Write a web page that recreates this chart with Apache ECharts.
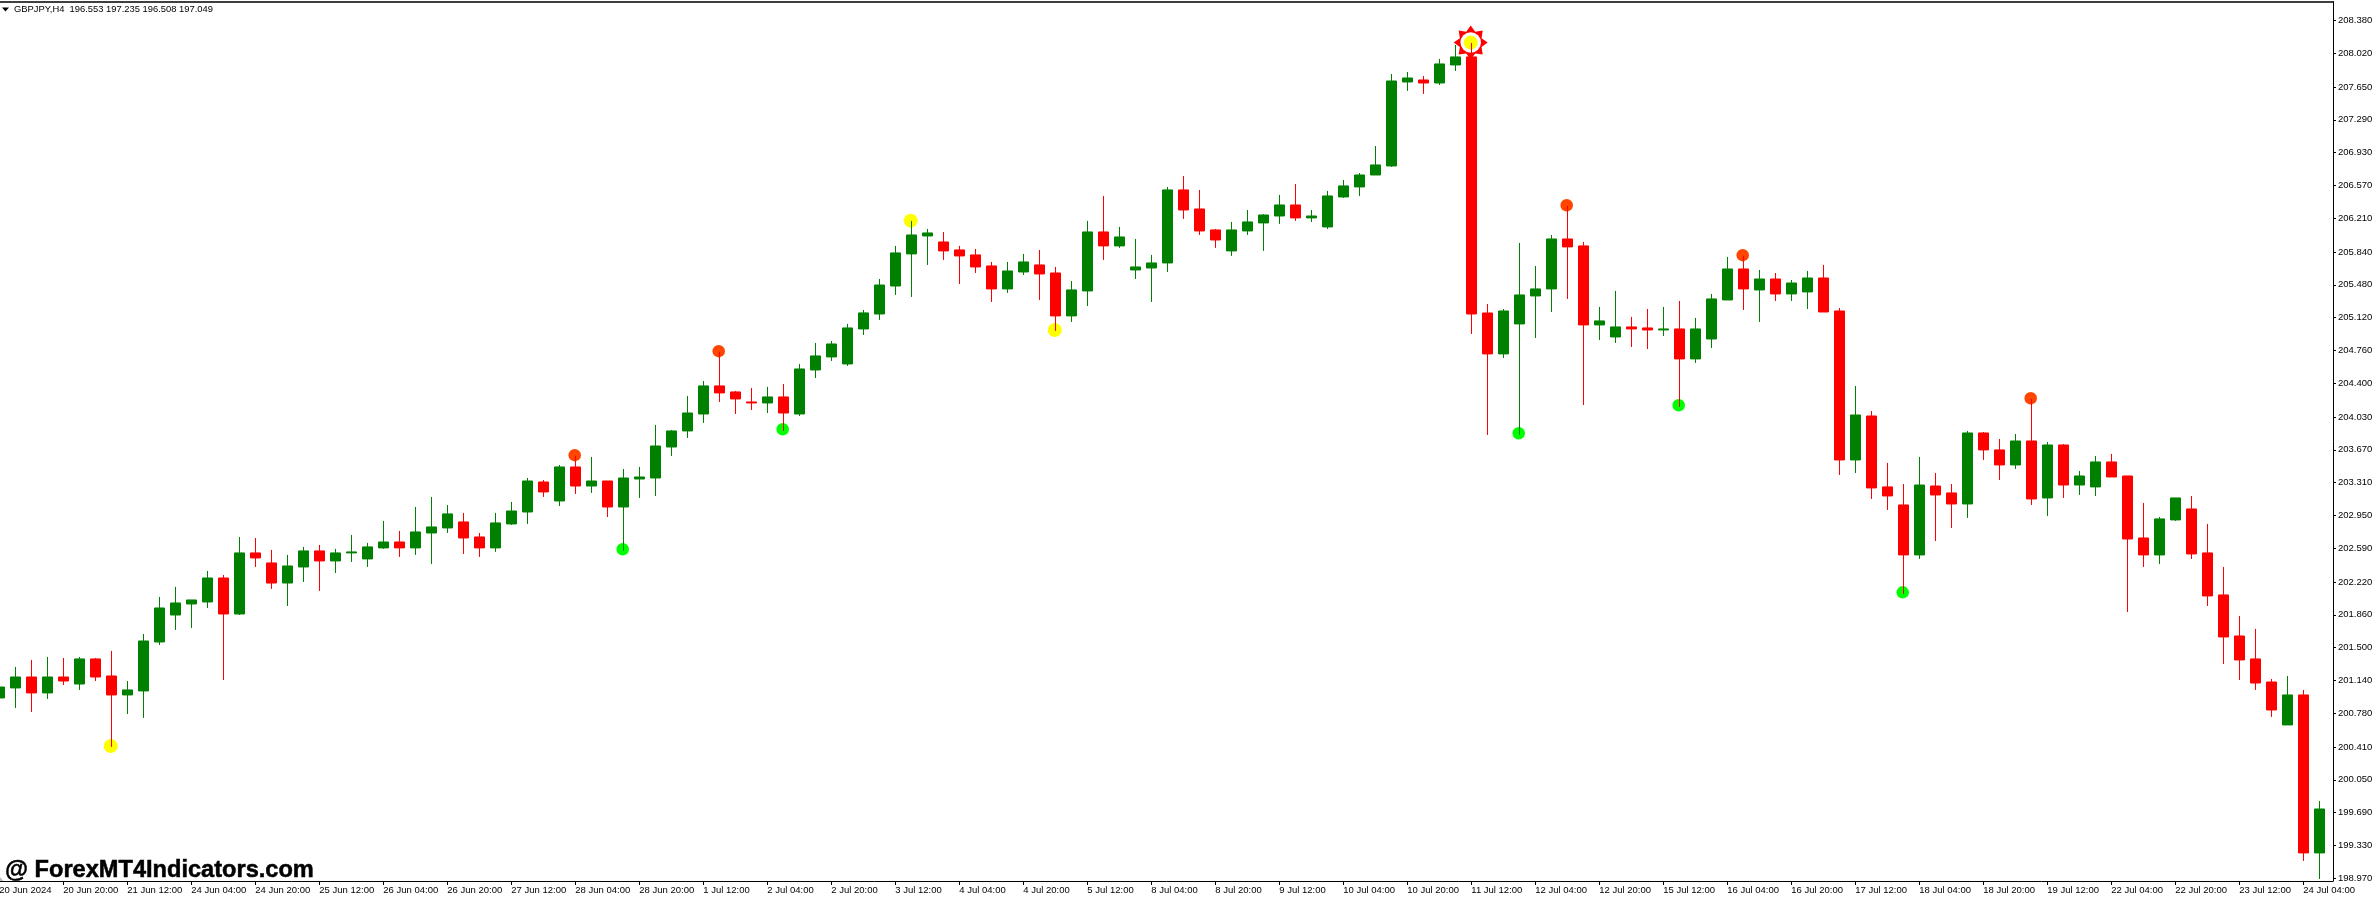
<!DOCTYPE html>
<html><head><meta charset="utf-8">
<style>html,body{margin:0;padding:0;background:#fff;overflow:hidden}#c{width:2374px;height:899px}</style>
<script src="https://cdn.jsdelivr.net/npm/echarts@6/dist/echarts.min.js"></script>
</head><body><div id="c"></div>
<script>
const chartTitle = "GBPJPY,H4  196.553 197.235 196.508 197.049";
const watermark = "@ ForexMT4Indicators.com";
const timeLabels = ["20 Jun 2024","20 Jun 20:00","21 Jun 12:00","24 Jun 04:00","24 Jun 20:00","25 Jun 12:00","26 Jun 04:00","26 Jun 20:00","27 Jun 12:00","28 Jun 04:00","28 Jun 20:00","1 Jul 12:00","2 Jul 04:00","2 Jul 20:00","3 Jul 12:00","4 Jul 04:00","4 Jul 20:00","5 Jul 12:00","8 Jul 04:00","8 Jul 20:00","9 Jul 12:00","10 Jul 04:00","10 Jul 20:00","11 Jul 12:00","12 Jul 04:00","12 Jul 20:00","15 Jul 12:00","16 Jul 04:00","16 Jul 20:00","17 Jul 12:00","18 Jul 04:00","18 Jul 20:00","19 Jul 12:00","22 Jul 04:00","22 Jul 20:00","23 Jul 12:00","24 Jul 04:00"];
const priceTicks = [208.380,208.020,207.650,207.290,206.930,206.570,206.210,205.840,205.480,205.120,204.760,204.400,204.030,203.670,203.310,202.950,202.590,202.220,201.860,201.500,201.140,200.780,200.410,200.050,199.690,199.330,198.970];
const opens = [200.948,201.058,201.178,201.003,201.178,201.101,201.376,201.189,200.981,201.025,
201.562,201.858,201.979,202.001,202.264,201.869,202.539,202.429,202.209,202.385,
202.561,202.451,202.539,202.473,202.594,202.659,202.594,202.758,202.813,202.879,
202.714,202.594,202.857,202.988,203.317,203.109,203.482,203.273,203.328,203.043,
203.350,203.361,203.701,203.877,204.063,204.371,204.305,204.195,204.184,204.250,
204.063,204.546,204.689,204.612,204.996,205.160,205.467,205.819,206.016,205.950,
205.863,205.808,205.687,205.435,205.621,205.698,205.610,205.139,205.413,206.060,
205.907,205.643,205.665,205.720,206.521,206.312,206.082,205.852,206.071,206.159,
206.235,206.356,206.214,206.115,206.444,206.554,206.685,206.784,207.705,207.727,
207.694,207.892,207.980,205.171,204.722,205.051,205.358,205.435,205.983,205.907,
205.040,204.908,205.018,205.007,204.985,204.996,204.667,204.886,205.314,205.654,
205.424,205.544,205.380,205.402,205.555,205.193,203.559,204.041,203.263,203.065,
202.517,203.273,203.197,203.076,203.855,203.669,203.504,203.767,203.142,203.723,
203.284,203.263,203.537,203.383,202.703,202.517,202.901,203.021,202.539,202.078,
201.628,201.376,201.123,200.652,200.981,199.248];
const closes = [201.068,201.178,201.003,201.178,201.134,201.376,201.178,200.981,201.036,201.573,
201.935,201.990,202.023,202.264,201.869,202.539,202.484,202.209,202.396,202.561,
202.451,202.539,202.550,202.605,202.659,202.594,202.769,202.824,202.967,202.703,
202.594,202.868,202.999,203.328,203.208,203.482,203.273,203.328,203.043,203.361,
203.372,203.712,203.877,204.074,204.371,204.294,204.228,204.184,204.250,204.074,
204.557,204.700,204.831,205.007,205.172,205.478,205.830,206.027,206.049,205.852,
205.797,205.676,205.435,205.632,205.731,205.599,205.139,205.424,206.060,205.907,
206.005,205.676,205.720,206.521,206.301,206.071,205.972,206.082,206.170,206.246,
206.356,206.214,206.235,206.455,206.565,206.685,206.795,207.716,207.749,207.694,
207.903,207.980,205.160,204.722,205.193,205.369,205.435,205.983,205.896,205.040,
205.084,205.018,204.996,204.985,204.996,204.667,204.996,205.325,205.654,205.435,
205.544,205.380,205.500,205.555,205.182,203.559,204.052,203.252,203.164,202.517,
203.284,203.175,203.076,203.855,203.669,203.504,203.767,203.131,203.723,203.284,
203.383,203.537,203.372,202.692,202.517,202.912,203.142,202.528,202.067,201.617,
201.365,201.112,200.816,200.981,199.248,199.730];
const highs = [201.112,201.288,201.365,201.398,201.387,201.398,201.387,201.464,201.134,201.650,
202.056,202.166,202.023,202.341,202.297,202.714,202.703,202.572,202.517,202.605,
202.627,202.583,202.736,202.649,202.890,202.780,203.043,203.153,203.065,202.978,
202.758,202.978,203.098,203.361,203.339,203.504,203.603,203.592,203.328,203.460,
203.482,203.943,203.888,204.261,204.425,204.744,204.316,204.349,204.360,204.392,
204.612,204.842,204.864,205.051,205.204,205.544,205.907,206.181,206.093,206.060,
205.907,205.874,205.731,205.731,205.819,205.863,205.676,205.522,206.181,206.455,
206.115,205.983,205.808,206.554,206.674,206.521,206.093,206.170,206.301,206.257,
206.466,206.586,206.301,206.510,206.630,206.707,207.003,207.793,207.815,207.771,
207.958,208.111,208.133,205.270,205.215,205.939,205.687,206.027,206.345,205.950,
205.237,205.413,205.128,205.215,205.237,205.303,205.117,205.380,205.786,205.797,
205.643,205.610,205.533,205.632,205.698,205.226,204.371,204.096,203.526,203.295,
203.592,203.416,203.295,203.877,203.866,203.789,203.844,204.228,203.756,203.734,
203.438,203.603,203.625,203.383,203.087,202.934,203.142,203.164,202.857,202.385,
201.848,201.705,201.156,201.189,201.036,199.818];
const lows = [200.926,200.838,200.794,200.937,201.090,201.036,201.134,200.411,200.772,200.729,
201.529,201.694,201.716,201.935,201.145,201.858,202.385,202.144,201.957,202.220,
202.122,202.319,202.440,202.385,202.583,202.495,202.517,202.418,202.758,202.528,
202.495,202.550,202.846,202.857,203.153,203.054,203.186,203.197,202.933,202.561,
203.142,203.164,203.603,203.800,203.965,204.195,204.063,204.107,204.074,203.877,
204.041,204.458,204.645,204.590,204.930,205.095,205.369,205.347,205.698,205.753,
205.489,205.610,205.292,205.391,205.588,205.314,204.974,205.073,205.248,205.753,
205.885,205.544,205.292,205.621,206.203,206.027,205.885,205.797,206.027,205.852,
206.148,206.181,206.170,206.093,206.433,206.455,206.685,206.773,207.607,207.574,
207.672,207.826,204.941,203.833,204.678,203.833,204.897,205.182,205.325,204.162,
204.875,204.842,204.798,204.776,204.919,204.140,204.623,204.787,205.314,205.204,
205.073,205.303,205.303,205.215,205.182,203.394,203.416,203.131,203.010,202.089,
202.473,202.670,202.813,202.923,203.559,203.339,203.460,203.065,202.945,203.142,
203.175,203.164,203.372,201.891,202.385,202.418,202.890,202.473,201.957,201.321,
201.145,201.036,200.740,200.652,199.160,198.962];
const orangeBars = [36,45,98,109,127];
const orangePrices = [203.611,204.752,206.353,205.805,204.236];
const limeBars = [39,49,95,105,119];
const limePrices = [202.579,203.896,203.852,204.159,202.107];
const yellowBars = [7,57,66,92];
const yellowPrices = [200.421,206.184,204.985,208.137];
const peakBar = 92, peakPrice = 208.137;

const BAR_STEP = 16;
const categories = opens.map((_, i) => i % 4 === 0 ? timeLabels[i / 4] : '');
categories.push('');
const FONT = 'Liberation Sans';
const pts = (b, p) => b.map((x, i) => [x, p[i]]);
const yMin = 198.94, yMax = 208.588;
const gridTop = 1.5, gridH = 879.5;
const star = 'path://M16 0L20.2 5.8L27.3 4.7L26.2 11.8L32 16L26.2 20.2L27.3 27.3L20.2 26.2L16 32L11.8 26.2L4.7 27.3L5.8 20.2L0 16L5.8 11.8L4.7 4.7L11.8 5.8Z';

const dot = (name, data, color, size) => ({
  name, type: 'scatter', xAxisIndex: 0, yAxisIndex: 0, data, symbol: 'circle',
  symbolSize: size, symbolOffset: [-0.6, 0], itemStyle: { color, opacity: 1 }, silent: true, animation: false, clip: false
});

const chart = echarts.init(document.getElementById('c'), null, { renderer: 'canvas', width: 2374, height: 899 });
chart.setOption({
  animation: false,
  backgroundColor: '#ffffff',
  title: [
    { text: chartTitle, left: 14, top: 4.5, padding: 0, textStyle: { fontFamily: FONT, fontSize: 9.4, fontWeight: 'normal', color: '#000' } },
    { text: watermark, left: 5, top: 858.5, padding: 0, textStyle: { fontFamily: FONT, fontSize: 23.6, fontWeight: 'bold', color: '#000', textBorderColor: '#000', textBorderWidth: 0.5 } }
  ],
  graphic: [
    { type: 'polygon', shape: { points: [[2, 7.5], [9, 7.5], [5.5, 11.5]] }, style: { fill: '#000' }, silent: true },
    { type: 'polygon', shape: { points: [[0, 877], [0, 881], [3.5, 881]] }, style: { fill: '#bdbdbd' }, silent: true }
  ],
  grid: [
    { left: -8.7, width: BAR_STEP * categories.length, top: gridTop, height: gridH, outerBoundsMode: 'none', containLabel: false },
    { left: 0, width: 2333, top: gridTop, height: gridH, outerBoundsMode: 'none', containLabel: false }
  ],
  xAxis: [
    { type: 'category', gridIndex: 0, data: categories, boundaryGap: true,
      axisLine: { show: false },
      axisTick: { show: true, alignWithLabel: true, interval: 3, length: 4, lineStyle: { color: '#000' } },
      axisLabel: { show: true, interval: 3, align: 'left', margin: 4.5, hideOverlap: false, fontFamily: FONT, fontSize: 9.5, color: '#000' },
      splitLine: { show: false } },
    { type: 'value', gridIndex: 1, min: 0, max: 1, position: 'bottom',
      axisLine: { show: true, lineStyle: { color: '#000', width: 1 } }, axisTick: { show: false }, axisLabel: { show: false }, splitLine: { show: false } },
    { type: 'value', gridIndex: 1, min: 0, max: 1, position: 'top',
      axisLine: { show: true, lineStyle: { color: '#000', width: 1.5 } }, axisTick: { show: false }, axisLabel: { show: false }, splitLine: { show: false } }
  ],
  yAxis: [
    { type: 'value', gridIndex: 0, min: yMin, max: yMax, show: false },
    { type: 'value', gridIndex: 1, min: yMin, max: yMax, position: 'right',
      axisLine: { show: true, onZero: false, lineStyle: { color: '#000', width: 1 } },
      axisTick: { show: true, length: 3, customValues: priceTicks, lineStyle: { color: '#000' } },
      axisLabel: { show: true, margin: 5, customValues: priceTicks, formatter: v => Number(v).toFixed(3), fontFamily: FONT, fontSize: 9.5, color: '#000' },
      splitLine: { show: false } }
  ],
  series: [
    { name: 'Peak star', type: 'scatter', xAxisIndex: 0, yAxisIndex: 0, data: [[peakBar, peakPrice]], symbol: star, symbolSize: 34,
      symbolOffset: [-0.6, 0], itemStyle: { color: '#ff0000', opacity: 1 }, silent: true, clip: false },
    dot('Peak ring', [[peakBar, peakPrice]], '#ffffff', 20.5),
    dot('Peak-up', pts(orangeBars, orangePrices), '#ff4500', 12.5),
    dot('Bottom', pts(limeBars, limePrices), '#00ff00', 12.5),
    dot('Minor', pts(yellowBars, yellowPrices), '#ffff00', 14),
    { name: 'GBPJPY', type: 'candlestick', xAxisIndex: 0, yAxisIndex: 0, barWidth: 10, clip: false, silent: true,
      data: opens.map((o, i) => [o, closes[i], lows[i], highs[i]]),
      itemStyle: { color: '#008000', color0: '#ff0000', borderColor: '#008000', borderColor0: '#ff0000', borderWidth: 1 } }
  ]
});
</script></body></html>
